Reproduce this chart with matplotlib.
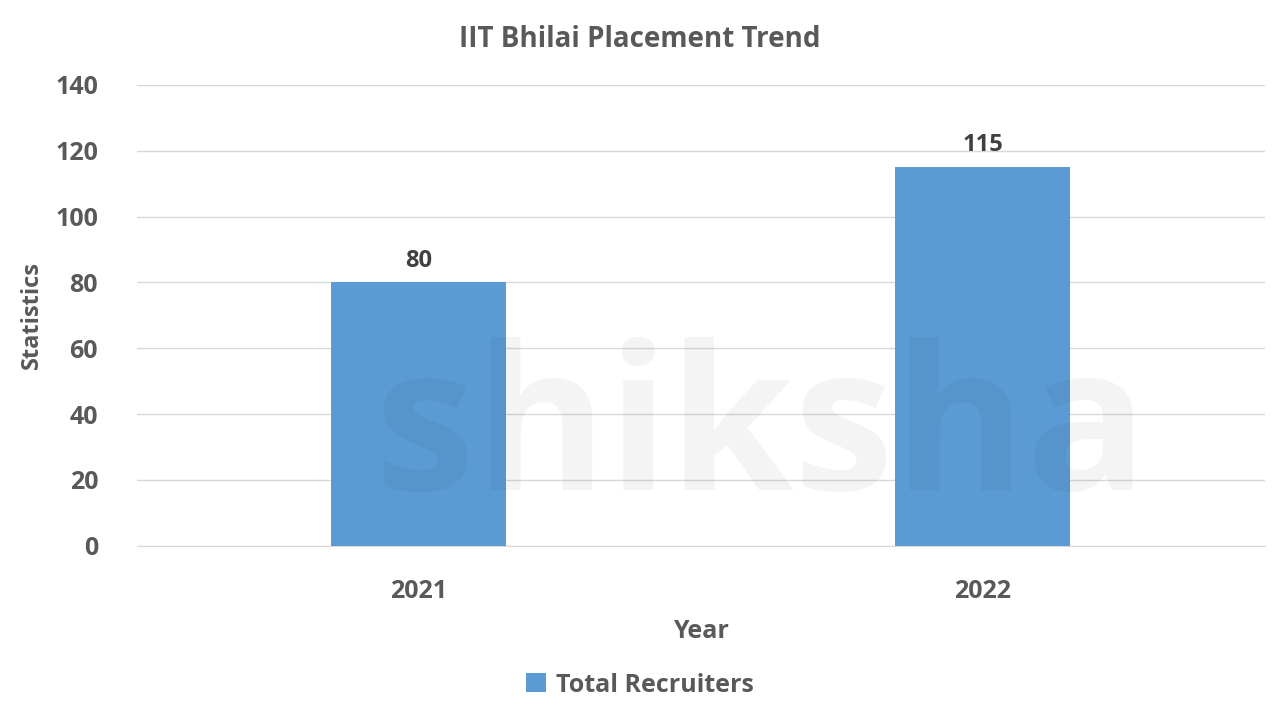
import matplotlib
matplotlib.use('Agg')
import matplotlib.pyplot as plt

years = ['2021', '2022']
recruiters = [80, 115]

plt.rcParams['font.family'] = ['Open Sans', 'DejaVu Sans']
grey = '#595959'

fig = plt.figure(figsize=(12.8, 7.2), dpi=100)
ax = fig.add_axes([0.107, 0.242, 0.881, 0.640])

# faint watermark, drawn over the bars like the original
fig.text(0.595, 0.32, 'shiksha', fontsize=145, color='black', alpha=0.045,
         ha='center', va='baseline', weight='bold', zorder=10)

x = range(len(years))
bars = ax.bar(x, recruiters, width=0.31, color='#5B9BD5', label='Total Recruiters', zorder=3)
for xi, v in zip(x, recruiters):
    ax.text(xi, v + 3, str(v), ha='center', va='bottom', fontsize=17,
            weight='bold', color='#404040')

ax.set_xlim(-0.5, 1.5)
ax.set_ylim(0, 140)
ax.set_yticks(range(0, 141, 20))
ax.set_xticks(list(x))
ax.set_xticklabels(years)
ax.grid(axis='y', color='#d9d9d9', linewidth=1, zorder=0)
ax.set_facecolor('none')
for s in ['top', 'right', 'left']:
    ax.spines[s].set_visible(False)
ax.spines['bottom'].set_color('#d9d9d9')
ax.tick_params(length=0, labelsize=18, labelcolor=grey)
ax.tick_params(axis='x', pad=24)
ax.tick_params(axis='y', pad=28)
for lab in ax.get_xticklabels() + ax.get_yticklabels():
    lab.set_fontweight('bold')

ax.set_xlabel('Year', fontsize=18, weight='bold', color=grey, labelpad=11)
ax.set_ylabel('Statistics', fontsize=17, weight='bold', color=grey, labelpad=8)
fig.suptitle('IIT Bhilai Placement Trend', fontsize=20, weight='bold', color=grey, y=0.965)

fig.legend(handles=[bars], loc='lower center', bbox_to_anchor=(0.5, 0.0), frameon=False,
           prop={'size': 18, 'weight': 'bold'}, labelcolor=grey, handlelength=0.8,
           handleheight=0.8, handletextpad=0.4)

fig.savefig('out.png', dpi=100)
